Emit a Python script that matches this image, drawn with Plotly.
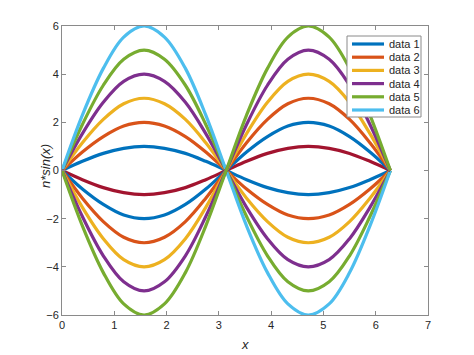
import plotly.graph_objects as go

x = [0, 0.39, 0.79, 1.18, 1.57, 1.96, 2.36, 2.75, 3.14, 3.53, 3.93, 4.32, 4.71, 5.11, 5.50, 5.89, 6.28]

s1 = [0, 0.38, 0.71, 0.92, 1, 0.92, 0.71, 0.38, 0, -0.38, -0.71, -0.92, -1, -0.92, -0.71, -0.38, 0]
s2 = [0, 0.77, 1.41, 1.85, 2, 1.85, 1.41, 0.77, 0, -0.77, -1.41, -1.85, -2, -1.85, -1.41, -0.77, 0]
s3 = [0, 1.15, 2.12, 2.77, 3, 2.77, 2.12, 1.15, 0, -1.15, -2.12, -2.77, -3, -2.77, -2.12, -1.15, 0]
s4 = [0, 1.53, 2.83, 3.70, 4, 3.70, 2.83, 1.53, 0, -1.53, -2.83, -3.70, -4, -3.70, -2.83, -1.53, 0]
s5 = [0, 1.91, 3.54, 4.62, 5, 4.62, 3.54, 1.91, 0, -1.91, -3.54, -4.62, -5, -4.62, -3.54, -1.91, 0]
s6 = [0, 2.30, 4.24, 5.54, 6, 5.54, 4.24, 2.30, 0, -2.30, -4.24, -5.54, -6, -5.54, -4.24, -2.30, 0]
m1 = [0, -0.38, -0.71, -0.92, -1, -0.92, -0.71, -0.38, 0, 0.38, 0.71, 0.92, 1, 0.92, 0.71, 0.38, 0]
m2 = [0, -0.77, -1.41, -1.85, -2, -1.85, -1.41, -0.77, 0, 0.77, 1.41, 1.85, 2, 1.85, 1.41, 0.77, 0]
m3 = [0, -1.15, -2.12, -2.77, -3, -2.77, -2.12, -1.15, 0, 1.15, 2.12, 2.77, 3, 2.77, 2.12, 1.15, 0]
m4 = [0, -1.53, -2.83, -3.70, -4, -3.70, -2.83, -1.53, 0, 1.53, 2.83, 3.70, 4, 3.70, 2.83, 1.53, 0]
m5 = [0, -1.91, -3.54, -4.62, -5, -4.62, -3.54, -1.91, 0, 1.91, 3.54, 4.62, 5, 4.62, 3.54, 1.91, 0]
m6 = [0, -2.30, -4.24, -5.54, -6, -5.54, -4.24, -2.30, 0, 2.30, 4.24, 5.54, 6, 5.54, 4.24, 2.30, 0]

series = [s1, s2, s3, s4, s5, s6, m1, m2, m3, m4, m5, m6]
names = ["data 1", "data 2", "data 3", "data 4", "data 5", "data 6"]
colors = ["#0072BD", "#D95319", "#EDB120", "#7E2F8E", "#77AC30", "#4DBEEE", "#A2142F"]

x_ticks = [0, 1, 2, 3, 4, 5, 6, 7]
y_ticks = [-6, -4, -2, 0, 2, 4, 6]
x_title = "x"
y_title = "n*sin(x)"

FONT = "Liberation Sans, Arial"
TXT = "#262626"
AX = "#8a8a8a"

fig = go.Figure()
for i, ys in enumerate(series):
    fig.add_trace(go.Scatter(
        x=x, y=ys, mode="lines",
        line=dict(color=colors[i % 7], width=3.2, shape="spline"),
        name=names[i] if i < 6 else f"data {i+1}",
        showlegend=False,
    ))

# custom compact legend (MATLAB style), positioned in paper coordinates
L, R, T, B = 62, 428, 26, 315
def px(p): return (p - L) / (R - L)
def py(p): return (B - p) / (B - T)

shapes = [dict(type="rect", xref="paper", yref="paper",
               x0=px(347), x1=px(421), y0=py(117), y1=py(36),
               line=dict(color=AX, width=1), fillcolor="white", layer="above")]
annotations = []
for k, nm in enumerate(names):
    yc = 44 + k * 13.2
    shapes.append(dict(type="line", xref="paper", yref="paper",
                       x0=px(352), x1=px(384), y0=py(yc), y1=py(yc),
                       line=dict(color=colors[k], width=3.2), layer="above"))
    annotations.append(dict(xref="paper", yref="paper", x=px(387), y=py(yc),
                            text=nm, showarrow=False, xanchor="left", yanchor="middle",
                            font=dict(family=FONT, size=11, color=TXT)))

# axis titles
annotations.append(dict(xref="paper", yref="paper", x=px(245), y=py(344),
                        text=f"<i>{x_title}</i>", showarrow=False,
                        xanchor="center", yanchor="middle",
                        font=dict(family=FONT, size=13, color=TXT)))
annotations.append(dict(xref="paper", yref="paper", x=px(45), y=py(166),
                        text=f"<i>{y_title}</i>", showarrow=False, textangle=-90,
                        xanchor="center", yanchor="middle",
                        font=dict(family=FONT, size=13, color=TXT)))

axis_common = dict(
    showline=True, linecolor=AX, linewidth=1, mirror="ticks",
    ticks="inside", ticklen=4, tickcolor=AX, showgrid=False, zeroline=False,
    tickfont=dict(family=FONT, size=11, color=TXT),
)

fig.update_layout(
    width=474, height=355,
    margin=dict(l=L, r=474 - R, t=T, b=355 - B),
    plot_bgcolor="white", paper_bgcolor="white",
    xaxis=dict(range=[0, 7], tickvals=x_ticks, **axis_common),
    yaxis=dict(range=[-6, 6], tickvals=y_ticks, **axis_common),
    shapes=shapes,
    annotations=annotations,
    showlegend=False,
)

fig.write_html("out.html")
